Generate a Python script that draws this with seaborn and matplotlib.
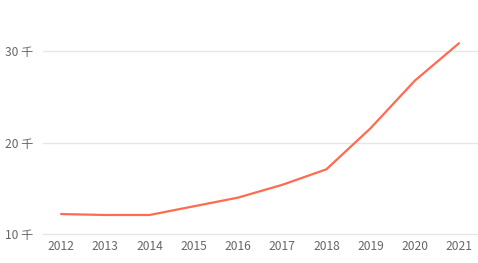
import matplotlib
matplotlib.use("Agg")
import matplotlib.pyplot as plt
import seaborn as sns
import pandas as pd

years = ["2012", "2013", "2014", "2015", "2016", "2017", "2018", "2019", "2020", "2021"]
values = [12.2, 12.1, 12.1, 13.05, 14.0, 15.4, 17.1, 21.6, 26.8, 30.9]
yticks = [10, 20, 30]
ytick_labels = ["10 千", "20 千", "30 千"]

sns.set_theme(style="white")
plt.rcParams["font.family"] = ["Noto Sans CJK SC", "DejaVu Sans"]

df = pd.DataFrame({"year": years, "value": values})

fig = plt.figure(figsize=(4.78, 2.63), dpi=100)
ax = fig.add_axes([43 / 478, 27 / 263, 435 / 478, 206 / 263])

sns.lineplot(data=df, x="year", y="value", ax=ax, color="#FF6B4F", linewidth=1.6, sort=False)

ax.set_xlim(-0.41, 9.43)
ax.set_ylim(9.8, 32.35)
ax.set_yticks(yticks)
ax.set_yticklabels(ytick_labels)
ax.grid(axis="y", color="#E6E6E6", linewidth=1)
ax.set_axisbelow(True)
for s in ax.spines.values():
    s.set_visible(False)
ax.tick_params(axis="both", length=0, labelsize=8.7, colors="#666666")
ax.tick_params(axis="y", pad=7)
ax.tick_params(axis="x", pad=3)
ax.set_xlabel("")
ax.set_ylabel("")

fig.savefig("out.png", dpi=100)
